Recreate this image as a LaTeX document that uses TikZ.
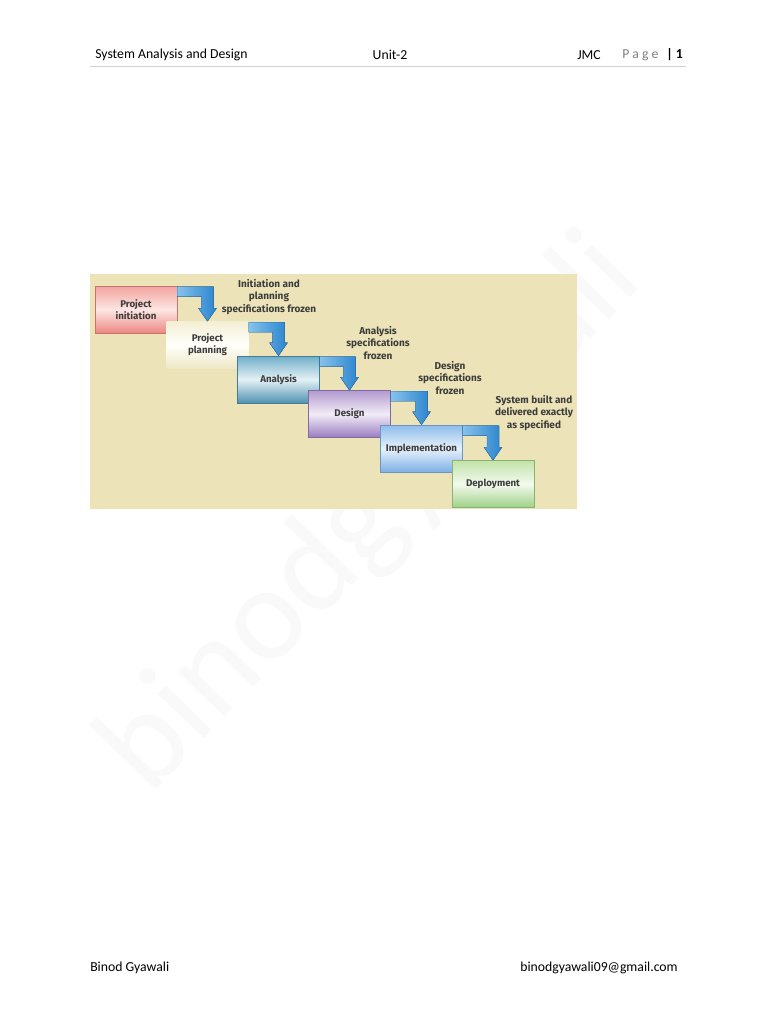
\documentclass[tikz,border=0pt]{standalone}
\usepackage{fontspec}
\setmainfont{Carlito}
\newfontfamily\diagfont{Fira Sans}
\usetikzlibrary{calc}
\definecolor{panel}{HTML}{ECE4B8}
\definecolor{diagtext}{HTML}{3C3C3C}
\definecolor{arrowlight}{HTML}{86C2EC}
\definecolor{arrowdark}{HTML}{2A84CE}
\definecolor{initA}{HTML}{F2A29D}\definecolor{initB}{HTML}{FCE6E3}\definecolor{initC}{HTML}{EC8782}
\definecolor{planA}{HTML}{F4EFD4}\definecolor{planB}{HTML}{FFFFFB}\definecolor{planC}{HTML}{EEE7C6}
\definecolor{anaA}{HTML}{6FAEC8}\definecolor{anaB}{HTML}{E4F1F5}\definecolor{anaC}{HTML}{4E92B0}
\definecolor{desA}{HTML}{B39ACF}\definecolor{desB}{HTML}{F2ECF7}\definecolor{desC}{HTML}{9A7CC0}
\definecolor{implA}{HTML}{8DBCEB}\definecolor{implB}{HTML}{E8F1FB}\definecolor{implC}{HTML}{7EB0E6}
\definecolor{depA}{HTML}{C1E2A8}\definecolor{depB}{HTML}{F3FAEE}\definecolor{depC}{HTML}{9FD186}
\tikzset{
  stage/.style={minimum width=61.5pt,minimum height=35.25pt,inner sep=0pt,
    align=center,text=diagtext,line width=0.4pt,
    font=\diagfont\bfseries\fontsize{7.3}{9}\selectfont},
  tint/.style={draw=#1C!85!black,top color=#1A,bottom color=#1C,middle color=#1B},
  note/.style={align=center,text=diagtext,inner sep=0pt,
    font=\diagfont\bfseries\fontsize{7.5}{9.6}\selectfont},
  flow/.style={left color=arrowlight,right color=arrowdark,
    draw=arrowdark!85!black,line width=0.3pt},
  header/.style={inner sep=0pt,font=\fontsize{10.3}{12}\selectfont}
}
\begin{document}
\begin{tikzpicture}[x=0.75pt,y=-0.75pt]
  \useasboundingbox (0,0) rectangle (768,1024);
  \fill[white] (0,0) rectangle (768,1024);

  % watermark
  \node[rotate=46,text=gray!5,inner sep=0pt,font=\fontsize{100}{100}\selectfont]
    (mark) at (372,515) {binodgyawali};

  % header and footer
  \node[header,anchor=west] (title) at (95,55) {System Analysis and Design};
  \node[header] (unit) at (390,55) {Unit-2};
  \node[header,anchor=west] (jmc) at (577,55) {JMC};
  \node[header,anchor=west,text=gray] (page) at (622,55) {P a g e};
  \node[header,anchor=west] (num) at (666,55) {\textbf{| 1}};
  \draw[gray!35,line width=0.5pt] (90,66) -- (686,66);
  \node[header,anchor=west] (author) at (90,968) {Binod Gyawali};
  \node[header,anchor=east] (mail) at (678,968) {binodgyawali09@gmail.com};

  % waterfall
  \fill[panel] (90,274) rectangle (577,509);
  \node[stage,tint=init] (init) at (136,309.5) {Project\\initiation};
  \node[stage,top color=planA,bottom color=planC,middle color=planB]
    (plan) at (207.5,345) {Project\\planning};
  \node[stage,tint=ana] (ana) at (278.5,379.5) {Analysis};
  \node[stage,tint=des] (des) at (349.5,414) {Design};
  \node[stage,tint=impl] (impl) at (421.5,448.5) {Implementation};
  \node[stage,tint=dep] (dep) at (493,484) {Deployment};

  \foreach \a/\b in {init/plan,plan/ana,ana/des,des/impl,impl/dep}
    \filldraw[flow] ($(\a.north east)+(0,1)$) -| ($(\b.north)+(6,-13)$)
      -- ++(3,0) -- (\b.north) -- ++(-9,-13) -- ++(3,0)
      |- ($(\a.north east)+(0,11)$) -- cycle;

  \node[note] (n1) at (269,297) {Initiation and\\planning\\specifications frozen};
  \node[note] (n2) at (378,343) {Analysis\\specifications\\frozen};
  \node[note] (n3) at (450,378) {Design\\specifications\\frozen};
  \node[note] (n4) at (534,413) {System built and\\delivered exactly\\as specified};
\end{tikzpicture}
\end{document}
